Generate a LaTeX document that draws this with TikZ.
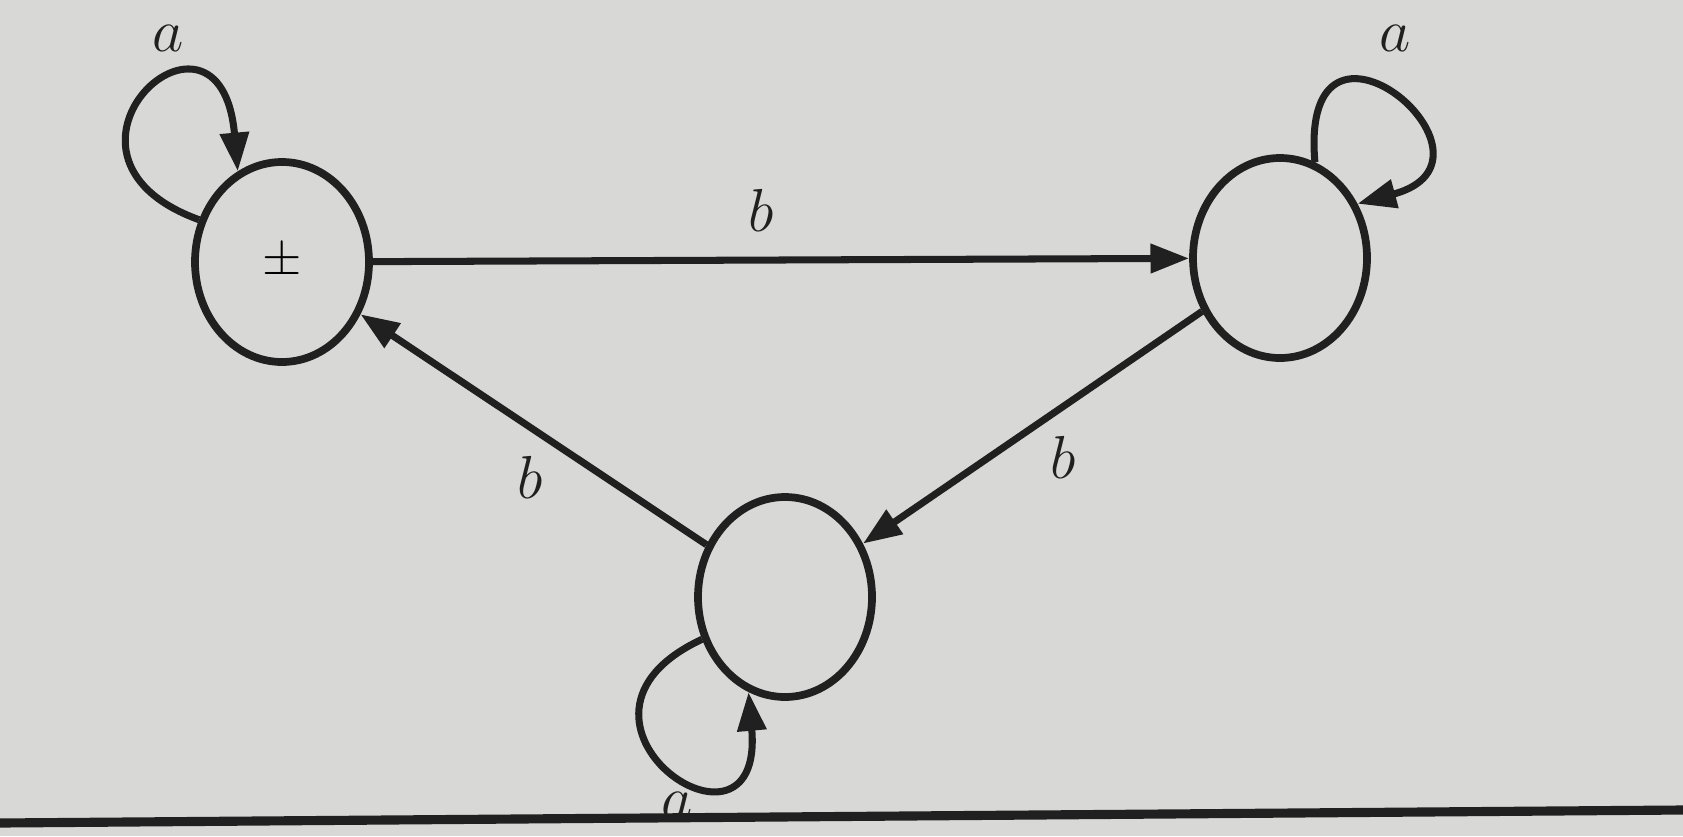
\documentclass[tikz,border=0pt]{standalone}
\usepackage{amsmath, amssymb}
\usepackage{tikz}
\usetikzlibrary{positioning,shapes.geometric,arrows.meta}
\definecolor{paper}{RGB}{216,216,214}
\definecolor{ink}{RGB}{32,32,32}
\tikzset{nstate/.style={ellipse,draw=ink,line width=2.2pt,inner sep=0pt,minimum width=1.74cm,minimum height=2cm,font=\Large},
	 trans/.style={draw=ink,line width=2pt,-{Triangle[length=11pt,width=8pt]}},
	 lab/.style={text=ink,font=\LARGE},
	 node distance = 1
	 }

\begin{document}
\begin{tikzpicture}
      \useasboundingbox (0,0) rectangle (16.83,8.36);
      \fill[paper] (0,0) rectangle (16.83,8.36);
      \node[nstate] (A) at (2.82,5.74) {$\pm$};
      \node[nstate] (B) at (12.80,5.78) {};
      \node[nstate] (C) at (7.85,2.39) {};
      \draw[trans] (A) -- (B);
      \draw[trans] (B) -- (C);
      \draw[trans] (C) -- (A);
      \draw[trans] (A.153) .. controls +(160:1.9) and +(95:2) .. (A.116);
      \draw[trans] (B.70) .. controls +(95:1.9) and +(15:1.7) .. (B.35);
      \draw[trans] (C.207) .. controls +(205:1.9) and +(275:1.9) .. (C.249);
      \node[lab] (lAB) at (7.61,6.26) {$b$};
      \node[lab] (lCA) at (5.30,3.59) {$b$};
      \node[lab] (lBC) at (10.63,3.79) {$b$};
      \node[lab] (lA) at (1.68,7.98) {$a$};
      \node[lab] (lB) at (13.95,7.98) {$a$};
      \node[lab] (lC) at (6.77,0.31) {$a$};
      \coordinate (rl) at (0,0.13);
      \coordinate (rr) at (16.83,0.26);
      \draw[ink,line width=2.6pt] (rl) -- (rr);
\end{tikzpicture}
\end{document}
